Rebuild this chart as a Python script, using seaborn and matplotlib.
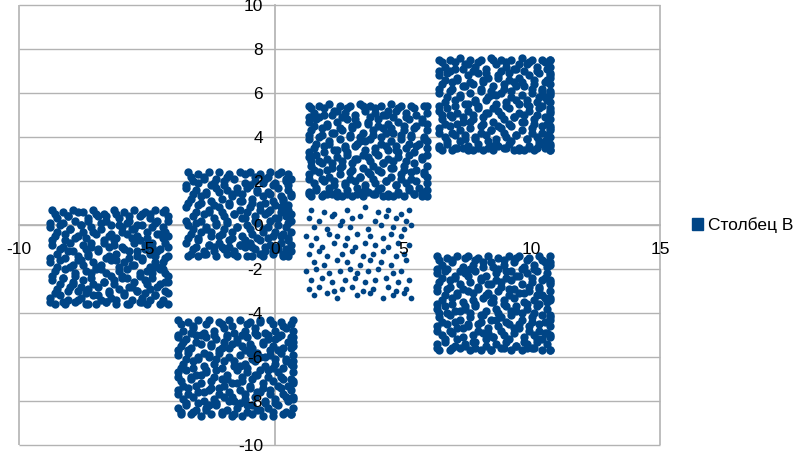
import matplotlib
matplotlib.use("Agg")
import pandas as pd
import matplotlib.pyplot as plt
from matplotlib.patches import Patch
import seaborn as sns

# Point positions are estimated from the picture. The dense clusters cannot be
# read point by point, so these are a thinner hand-typed set with the same
# extents and density feel as the reference.
a_x = [-8.7,-8.3,-7.9,-7.5,-7.1,-6.7,-6.3,-5.9,-5.5,-5.1,-4.7,-4.3,
       -8.5,-8.1,-7.8,-7.3,-6.9,-6.6,-6.1,-5.7,-5.3,-4.9,-4.6,-4.2,
       -8.8,-8.4,-8.0,-7.6,-7.2,-6.8,-6.4,-6.0,-5.6,-5.2,-4.8,-4.4,
       -8.6,-8.2,-7.7,-7.4,-7.0,-6.5,-6.2,-5.8,-5.4,-5.0,-4.5,-4.2,
       -8.7,-8.3,-8.0,-7.5,-7.2,-6.7,-6.3,-6.0,-5.5,-5.1,-4.8,-4.3,
       -8.5,-8.1,-7.7,-7.3,-6.9,-6.5,-6.2,-5.7,-5.4,-4.9,-4.6,-4.2,
       -8.8,-8.4,-7.9,-7.6,-7.1,-6.8,-6.4,-5.9,-5.6,-5.2,-4.7,-4.4,
       -8.6,-8.2,-7.8,-7.4,-7.0,-6.6,-6.1,-5.8,-5.3,-5.0,-4.5,-4.3,
       -8.7,-8.3,-7.9,-7.5,-7.2,-6.7,-6.3,-6.0,-5.5,-5.1,-4.8,-4.2,
       -8.5,-8.0,-7.7,-7.3,-6.9,-6.5,-6.1,-5.7,-5.4,-4.9,-4.6,-4.3,
       -8.8,-8.4,-8.1,-7.6,-7.1,-6.8,-6.4,-5.9,-5.6,-5.2,-4.7,-4.4,
       -8.6,-8.2,-7.8,-7.4,-7.0,-6.6,-6.2,-5.8,-5.3,-5.0,-4.5,-4.2]
a_y = [0.7,0.6,0.7,0.6,0.7,0.5,0.7,0.6,0.7,0.6,0.7,0.7,
       0.3,0.4,0.2,0.3,0.4,0.2,0.3,0.2,0.4,0.3,0.2,0.4,
       -0.1,0.0,-0.2,0.0,-0.1,-0.2,0.0,-0.1,-0.2,0.0,-0.1,-0.1,
       -0.5,-0.4,-0.5,-0.6,-0.4,-0.5,-0.6,-0.4,-0.5,-0.6,-0.4,-0.5,
       -0.9,-1.0,-0.8,-0.9,-1.0,-0.8,-0.9,-1.0,-0.8,-0.9,-1.0,-0.8,
       -1.3,-1.2,-1.4,-1.3,-1.2,-1.4,-1.3,-1.2,-1.4,-1.3,-1.2,-1.4,
       -1.7,-1.6,-1.8,-1.6,-1.7,-1.8,-1.6,-1.7,-1.8,-1.6,-1.7,-1.7,
       -2.1,-2.0,-2.2,-2.1,-2.0,-2.2,-2.1,-2.0,-2.2,-2.1,-2.0,-2.2,
       -2.5,-2.4,-2.6,-2.5,-2.4,-2.6,-2.5,-2.4,-2.6,-2.5,-2.4,-2.6,
       -2.9,-2.8,-3.0,-2.9,-2.8,-3.0,-2.9,-2.8,-3.0,-2.9,-2.8,-3.0,
       -3.3,-3.2,-3.4,-3.3,-3.2,-3.4,-3.3,-3.2,-3.4,-3.3,-3.2,-3.4,
       -3.6,-3.6,-3.5,-3.6,-3.6,-3.5,-3.6,-3.6,-3.5,-3.6,-3.6,-3.6]
a2_x = [-8.6,-8.1,-7.7,-7.0,-6.6,-6.2,-5.7,-5.2,-4.9,-4.4,
        -8.8,-8.3,-7.6,-7.3,-6.8,-6.1,-5.8,-5.4,-4.7,-4.2,
        -8.5,-8.0,-7.5,-7.1,-6.4,-6.0,-5.5,-5.0,-4.6,-4.3,
        -8.7,-8.2,-7.8,-7.2,-6.7,-6.3,-5.6,-5.3,-4.8,-4.4,
        -8.4,-7.9,-7.4,-6.9,-6.5,-5.9,-5.4,-5.1,-4.5,-4.2,
        -8.8,-8.2,-7.7,-7.3,-6.6,-6.2,-5.7,-5.2,-4.7,-4.3,
        -8.5,-8.0,-7.5,-7.0,-6.8,-6.1,-5.5,-4.9,-4.6,-4.4,
        -8.7,-8.3,-7.8,-7.2,-6.4,-6.0,-5.8,-5.3,-4.8,-4.2,
        -8.4,-7.9,-7.6,-7.1,-6.7,-6.3,-5.6,-5.0,-4.5,-4.3,
        -8.6,-8.1,-7.4,-6.9,-6.5,-5.9,-5.4,-5.1,-4.7,-4.2,
        -8.8,-8.3,-7.7,-7.3,-6.6,-6.2,-5.7,-5.2,-4.9,-4.4]
a2_y = [0.5,0.4,0.6,0.5,0.4,0.5,0.4,0.5,0.5,0.6,
        0.1,0.1,0.0,0.2,0.1,0.0,0.1,0.0,0.1,0.2,
        -0.3,-0.2,-0.3,-0.3,-0.4,-0.3,-0.2,-0.3,-0.4,-0.3,
        -0.7,-0.7,-0.6,-0.8,-0.7,-0.7,-0.6,-0.7,-0.8,-0.6,
        -1.1,-1.2,-1.1,-1.1,-1.0,-1.1,-1.2,-1.1,-1.1,-1.0,
        -1.5,-1.5,-1.6,-1.4,-1.5,-1.6,-1.5,-1.5,-1.4,-1.5,
        -1.9,-1.9,-1.8,-1.9,-2.0,-1.9,-1.8,-1.9,-1.9,-2.0,
        -2.3,-2.4,-2.3,-2.2,-2.3,-2.3,-2.4,-2.3,-2.2,-2.3,
        -2.7,-2.7,-2.8,-2.7,-2.6,-2.7,-2.8,-2.7,-2.7,-2.6,
        -3.1,-3.0,-3.1,-3.2,-3.1,-3.1,-3.0,-3.1,-3.2,-3.1,
        -3.5,-3.5,-3.4,-3.6,-3.5,-3.4,-3.6,-3.5,-3.4,-3.5]

b_x = [-3.4,-3.0,-2.6,-2.2,-1.8,-1.4,-1.0,-0.6,-0.2,0.2,0.5,
       -3.2,-2.8,-2.4,-2.0,-1.6,-1.2,-0.8,-0.4,0.0,0.4,0.6,
       -3.5,-3.1,-2.7,-2.3,-1.9,-1.5,-1.1,-0.7,-0.3,0.1,0.5,
       -3.3,-2.9,-2.5,-2.1,-1.7,-1.3,-0.9,-0.5,-0.1,0.3,0.6,
       -3.5,-3.0,-2.6,-2.2,-1.8,-1.4,-1.0,-0.6,-0.2,0.2,0.5,
       -3.2,-2.8,-2.4,-2.0,-1.6,-1.2,-0.8,-0.4,0.0,0.4,0.6,
       -3.4,-3.1,-2.7,-2.3,-1.9,-1.5,-1.1,-0.7,-0.3,0.1,0.5,
       -3.3,-2.9,-2.5,-2.1,-1.7,-1.3,-0.9,-0.5,-0.1,0.3,0.6,
       -3.5,-3.0,-2.6,-2.2,-1.8,-1.4,-1.0,-0.6,-0.2,0.2,0.5,
       -3.2,-2.8,-2.4,-2.0,-1.6,-1.2,-0.8,-0.4,0.0,0.4,0.6,
       -3.4,-3.0,-2.7,-2.3,-1.9,-1.5,-0.9,-0.5,-0.1,0.3,0.5]
b_y = [2.4,2.3,2.4,2.4,2.3,2.4,2.4,2.3,2.4,2.4,2.3,
       2.0,2.1,1.9,2.0,2.1,1.9,2.0,2.1,1.9,2.0,2.1,
       1.7,1.6,1.5,1.7,1.6,1.5,1.7,1.6,1.5,1.7,1.6,
       1.2,1.3,1.1,1.2,1.3,1.1,1.2,1.3,1.1,1.2,1.3,
       0.8,0.9,0.7,0.8,0.9,0.7,0.8,0.9,0.7,0.8,0.9,
       0.4,0.5,0.3,0.4,0.5,0.3,0.4,0.5,0.3,0.4,0.5,
       0.0,0.1,-0.1,0.0,0.1,-0.1,0.0,0.1,-0.1,0.0,0.1,
       -0.4,-0.3,-0.5,-0.4,-0.3,-0.5,-0.4,-0.3,-0.5,-0.4,-0.3,
       -0.8,-0.7,-0.9,-0.8,-0.7,-0.9,-0.8,-0.7,-0.9,-0.8,-0.7,
       -1.1,-1.2,-1.0,-1.1,-1.2,-1.0,-1.1,-1.2,-1.0,-1.1,-1.2,
       -1.4,-1.4,-1.3,-1.4,-1.3,-1.4,-1.4,-1.4,-1.3,-1.4,-1.4]
b2_x = [-3.3,-2.8,-2.3,-1.9,-1.2,-0.8,-0.3,0.1,0.4,
        -3.5,-3.0,-2.5,-2.0,-1.5,-1.0,-0.5,-0.1,0.5,
        -3.2,-2.7,-2.2,-1.7,-1.3,-0.7,-0.2,0.2,0.6,
        -3.4,-2.9,-2.4,-1.8,-1.4,-0.9,-0.4,0.0,0.3,
        -3.1,-2.6,-2.1,-1.6,-1.1,-0.6,-0.3,0.2,0.5,
        -3.5,-2.9,-2.3,-1.9,-1.3,-0.8,-0.2,0.1,0.6,
        -3.2,-2.7,-2.5,-2.0,-1.5,-1.0,-0.5,0.0,0.4,
        -3.4,-3.0,-2.2,-1.7,-1.2,-0.7,-0.3,0.2,0.5,
        -3.1,-2.6,-2.1,-1.8,-1.4,-0.9,-0.4,0.1,0.6,
        -3.3,-2.8,-2.4,-1.6,-1.1,-0.6,-0.1,0.3,0.4]
b2_y = [2.2,2.2,2.1,2.2,2.3,2.2,2.2,2.3,2.1,
        1.8,1.9,1.8,1.8,1.7,1.8,1.9,1.8,1.8,
        1.4,1.4,1.5,1.4,1.4,1.5,1.4,1.3,1.4,
        1.0,1.0,0.9,1.0,1.1,1.0,1.0,0.9,1.1,
        0.6,0.6,0.6,0.5,0.6,0.7,0.6,0.6,0.7,
        0.2,0.2,0.1,0.2,0.3,0.2,0.2,0.3,0.2,
        -0.2,-0.2,-0.3,-0.2,-0.1,-0.2,-0.2,-0.3,-0.1,
        -0.6,-0.6,-0.5,-0.6,-0.7,-0.6,-0.6,-0.5,-0.6,
        -1.0,-0.9,-1.0,-1.0,-0.9,-1.0,-1.0,-1.1,-0.9,
        -1.3,-1.3,-1.2,-1.3,-1.4,-1.3,-1.2,-1.3,-1.3]

c_x = [-3.8,-3.4,-3.0,-2.6,-2.2,-1.8,-1.4,-1.0,-0.6,-0.2,0.2,0.7,
       -3.6,-3.2,-2.8,-2.4,-2.0,-1.6,-1.2,-0.8,-0.4,0.0,0.4,0.7,
       -3.8,-3.5,-3.1,-2.7,-2.3,-1.9,-1.5,-1.1,-0.7,-0.3,0.1,0.6,
       -3.7,-3.3,-2.9,-2.5,-2.1,-1.7,-1.3,-0.9,-0.5,-0.1,0.3,0.7,
       -3.8,-3.4,-3.0,-2.6,-2.2,-1.8,-1.4,-1.0,-0.6,-0.2,0.2,0.7,
       -3.6,-3.2,-2.8,-2.4,-2.0,-1.6,-1.2,-0.8,-0.4,0.0,0.4,0.6,
       -3.8,-3.5,-3.1,-2.7,-2.3,-1.9,-1.5,-1.1,-0.7,-0.3,0.1,0.7,
       -3.7,-3.3,-2.9,-2.5,-2.1,-1.7,-1.3,-0.9,-0.5,-0.1,0.3,0.7,
       -3.8,-3.4,-3.0,-2.6,-2.2,-1.8,-1.4,-1.0,-0.6,-0.2,0.2,0.6,
       -3.6,-3.2,-2.8,-2.4,-2.0,-1.6,-1.2,-0.8,-0.4,0.0,0.4,0.7,
       -3.8,-3.5,-3.1,-2.7,-2.3,-1.9,-1.5,-1.1,-0.7,-0.3,0.1,0.7,
       -3.7,-3.3,-2.9,-2.5,-2.1,-1.7,-1.3,-0.9,-0.5,-0.1,0.3,0.6]
c_y = [-4.3,-4.4,-4.3,-4.3,-4.4,-4.3,-4.3,-4.4,-4.3,-4.3,-4.4,-4.3,
       -4.8,-4.7,-4.9,-4.8,-4.7,-4.9,-4.8,-4.7,-4.9,-4.8,-4.7,-4.8,
       -5.1,-5.2,-5.0,-5.1,-5.2,-5.0,-5.2,-5.1,-5.0,-5.2,-5.1,-5.1,
       -5.5,-5.6,-5.4,-5.5,-5.6,-5.4,-5.5,-5.6,-5.4,-5.5,-5.6,-5.5,
       -5.9,-5.8,-6.0,-5.9,-5.8,-6.0,-5.9,-5.8,-6.0,-5.9,-5.8,-5.9,
       -6.3,-6.2,-6.4,-6.3,-6.2,-6.4,-6.3,-6.2,-6.4,-6.3,-6.2,-6.3,
       -6.7,-6.6,-6.8,-6.7,-6.6,-6.8,-6.6,-6.7,-6.8,-6.6,-6.7,-6.7,
       -7.1,-7.0,-7.2,-7.1,-7.0,-7.2,-7.1,-7.0,-7.2,-7.1,-7.0,-7.1,
       -7.5,-7.4,-7.6,-7.5,-7.4,-7.6,-7.5,-7.4,-7.6,-7.5,-7.4,-7.5,
       -7.9,-7.8,-8.0,-7.9,-7.8,-8.0,-7.9,-7.8,-8.0,-7.9,-7.8,-7.9,
       -8.3,-8.2,-8.4,-8.3,-8.2,-8.4,-8.3,-8.2,-8.4,-8.3,-8.2,-8.3,
       -8.6,-8.6,-8.7,-8.6,-8.6,-8.7,-8.7,-8.6,-8.7,-8.7,-8.6,-8.6]
c2_x = [-3.7,-3.2,-2.7,-2.1,-1.7,-1.1,-0.6,-0.1,0.3,0.6,
        -3.8,-3.3,-2.9,-2.4,-1.9,-1.3,-0.8,-0.3,0.2,0.7,
        -3.6,-3.1,-2.5,-2.0,-1.5,-1.0,-0.5,0.0,0.5,0.7,
        -3.8,-3.4,-2.8,-2.2,-1.8,-1.2,-0.7,-0.2,0.1,0.6,
        -3.5,-3.0,-2.6,-2.3,-1.6,-0.9,-0.4,0.0,0.4,0.7,
        -3.7,-3.2,-2.7,-2.1,-1.4,-1.1,-0.6,-0.1,0.3,0.7,
        -3.8,-3.3,-2.9,-2.4,-1.9,-1.3,-0.8,-0.3,0.2,0.6,
        -3.6,-3.1,-2.5,-2.0,-1.5,-1.0,-0.5,0.1,0.5,0.7,
        -3.8,-3.4,-2.8,-2.2,-1.7,-1.2,-0.7,-0.2,0.3,0.7,
        -3.5,-3.0,-2.6,-2.3,-1.8,-1.4,-0.9,-0.4,0.0,0.5,
        -3.7,-3.2,-2.7,-2.1,-1.6,-1.1,-0.6,-0.1,0.4,0.6]
c2_y = [-4.5,-4.6,-4.5,-4.5,-4.6,-4.5,-4.4,-4.5,-4.6,-4.5,
        -5.0,-4.9,-5.0,-5.0,-5.1,-5.0,-4.9,-5.0,-5.0,-5.1,
        -5.3,-5.3,-5.4,-5.3,-5.3,-5.4,-5.3,-5.2,-5.3,-5.3,
        -5.7,-5.7,-5.8,-5.7,-5.6,-5.7,-5.8,-5.7,-5.7,-5.6,
        -6.1,-6.1,-6.0,-6.1,-6.2,-6.1,-6.0,-6.1,-6.1,-6.2,
        -6.5,-6.5,-6.6,-6.5,-6.4,-6.5,-6.6,-6.5,-6.5,-6.4,
        -6.9,-6.9,-6.8,-6.9,-7.0,-6.9,-6.8,-6.9,-6.9,-7.0,
        -7.3,-7.3,-7.4,-7.3,-7.2,-7.3,-7.4,-7.3,-7.3,-7.2,
        -7.7,-7.7,-7.6,-7.7,-7.8,-7.7,-7.6,-7.7,-7.7,-7.8,
        -8.1,-8.1,-8.2,-8.1,-8.0,-8.1,-8.2,-8.1,-8.1,-8.0,
        -8.5,-8.5,-8.4,-8.5,-8.6,-8.5,-8.4,-8.5,-8.5,-8.6]

d_x = [1.3,1.7,2.1,2.5,2.9,3.3,3.7,4.1,4.5,4.9,5.3,5.8,
       1.5,1.9,2.3,2.7,3.1,3.5,3.9,4.3,4.7,5.1,5.5,5.9,
       1.3,1.6,2.0,2.4,2.8,3.2,3.6,4.0,4.4,4.8,5.2,5.7,
       1.4,1.8,2.2,2.6,3.0,3.4,3.8,4.2,4.6,5.0,5.4,5.9,
       1.3,1.7,2.1,2.5,2.9,3.3,3.7,4.1,4.5,4.9,5.3,5.8,
       1.5,1.9,2.3,2.7,3.1,3.5,3.9,4.3,4.7,5.1,5.5,5.9,
       1.3,1.6,2.0,2.4,2.8,3.2,3.6,4.0,4.4,4.8,5.2,5.7,
       1.4,1.8,2.2,2.6,3.0,3.4,3.8,4.2,4.6,5.0,5.4,5.9,
       1.3,1.7,2.1,2.5,2.9,3.3,3.7,4.1,4.5,4.9,5.3,5.8,
       1.5,1.9,2.3,2.7,3.1,3.5,3.9,4.3,4.7,5.1,5.5,5.9,
       1.3,1.6,2.0,2.4,2.8,3.2,3.6,4.0,4.4,4.8,5.2,5.7,
       1.4,1.8,2.2,2.6,3.0,3.4,3.8,4.2,4.6,5.0,5.4,5.9]
d_y = [5.4,5.4,5.5,5.4,5.4,5.5,5.4,5.4,5.5,5.4,5.4,5.4,
       5.1,5.0,5.2,5.1,5.0,5.2,5.1,5.0,5.2,5.1,5.0,5.1,
       4.7,4.8,4.6,4.7,4.8,4.6,4.7,4.8,4.6,4.7,4.8,4.7,
       4.3,4.4,4.2,4.3,4.4,4.2,4.3,4.4,4.2,4.3,4.4,4.3,
       3.9,4.0,3.8,3.9,4.0,3.8,3.9,4.0,3.8,3.9,4.0,3.9,
       3.5,3.6,3.4,3.5,3.6,3.4,3.5,3.6,3.4,3.5,3.6,3.5,
       3.1,3.2,3.0,3.1,3.2,3.0,3.1,3.2,3.0,3.1,3.2,3.1,
       2.7,2.8,2.6,2.7,2.8,2.6,2.7,2.8,2.6,2.7,2.8,2.7,
       2.3,2.4,2.2,2.3,2.4,2.2,2.3,2.4,2.2,2.3,2.4,2.3,
       1.9,2.0,1.8,1.9,2.0,1.8,1.9,2.0,1.8,1.9,2.0,1.9,
       1.5,1.6,1.4,1.5,1.6,1.4,1.5,1.6,1.4,1.5,1.6,1.5,
       1.3,1.3,1.4,1.3,1.3,1.3,1.4,1.3,1.3,1.3,1.4,1.3]
d2_x = [1.4,1.9,2.4,2.8,3.4,3.9,4.4,4.8,5.4,5.9,
        1.3,1.7,2.2,2.6,3.1,3.7,4.2,4.6,5.1,5.7,
        1.5,2.0,2.5,3.0,3.6,4.0,4.5,5.0,5.5,5.9,
        1.3,1.8,2.3,2.9,3.3,3.8,4.3,4.9,5.3,5.8,
        1.6,2.1,2.7,3.2,3.5,4.1,4.7,5.2,5.6,5.9,
        1.3,1.9,2.4,2.8,3.4,3.9,4.4,4.8,5.4,5.9,
        1.4,1.7,2.2,2.6,3.1,3.7,4.2,4.6,5.1,5.7,
        1.5,2.0,2.5,3.0,3.6,4.0,4.5,5.0,5.5,5.8,
        1.3,1.8,2.3,2.9,3.3,3.8,4.3,4.9,5.3,5.9,
        1.6,2.1,2.7,3.2,3.5,4.1,4.7,5.2,5.6,5.9,
        1.3,1.9,2.4,2.8,3.4,3.9,4.4,4.8,5.4,5.7]
d2_y = [5.3,5.3,5.2,5.3,5.4,5.3,5.2,5.3,5.3,5.4,
        4.9,4.9,5.0,4.9,4.8,4.9,5.0,4.9,4.9,4.8,
        4.5,4.5,4.4,4.5,4.6,4.5,4.4,4.5,4.5,4.6,
        4.1,4.1,4.2,4.1,4.0,4.1,4.2,4.1,4.1,4.0,
        3.7,3.7,3.6,3.7,3.8,3.7,3.6,3.7,3.7,3.8,
        3.3,3.3,3.4,3.3,3.2,3.3,3.4,3.3,3.3,3.2,
        2.9,2.9,2.8,2.9,3.0,2.9,2.8,2.9,2.9,3.0,
        2.5,2.5,2.6,2.5,2.4,2.5,2.6,2.5,2.5,2.4,
        2.1,2.1,2.0,2.1,2.2,2.1,2.0,2.1,2.1,2.2,
        1.7,1.7,1.8,1.7,1.6,1.7,1.8,1.7,1.7,1.6,
        1.4,1.4,1.3,1.4,1.5,1.4,1.3,1.4,1.4,1.3]

# sparser cluster, positions follow the zoomed crop more closely
e_x = [1.4,1.9,2.3,2.8,3.5,4.0,4.4,4.9,5.2,
       1.3,1.7,2.2,2.6,3.0,3.3,3.9,4.3,4.7,5.1,
       1.5,2.0,2.5,2.9,3.6,4.1,4.6,5.0,5.3,
       1.2,1.6,2.1,2.4,2.8,3.2,3.7,4.2,4.5,4.9,
       1.4,1.8,2.3,2.7,3.1,3.5,3.9,4.4,4.8,5.2,
       1.3,1.7,2.0,2.6,3.0,3.4,3.8,4.2,4.7,5.0,
       1.5,1.9,2.4,2.8,3.3,3.7,4.1,4.5,5.1,
       1.2,1.6,2.1,2.5,2.9,3.2,3.6,4.0,4.6,4.9,
       1.4,1.8,2.2,2.7,3.1,3.5,3.9,4.3,4.8,5.2,
       1.3,1.7,2.3,2.6,3.0,3.4,3.8,4.4,4.7,5.1,
       1.5,2.0,2.4,3.2,3.7,4.2,4.6,5.0,5.3]
e_y = [0.7,0.6,0.5,0.7,0.8,0.6,0.7,0.5,0.7,
       0.3,0.2,0.4,0.2,0.3,0.4,0.2,0.4,0.3,0.2,
       -0.1,-0.2,0.0,-0.1,-0.2,0.0,-0.1,-0.2,0.0,
       -0.5,-0.6,-0.4,-0.5,-0.6,-0.4,-0.5,-0.6,-0.4,-0.5,
       -0.9,-1.0,-0.8,-0.9,-1.0,-0.8,-0.9,-1.0,-0.8,-0.9,
       -1.3,-1.2,-1.4,-1.3,-1.2,-1.4,-1.3,-1.2,-1.4,-1.3,
       -1.7,-1.8,-1.6,-1.7,-1.8,-1.6,-1.7,-1.8,-1.6,
       -2.1,-2.0,-2.2,-2.1,-2.0,-2.2,-2.1,-2.0,-2.2,-2.1,
       -2.5,-2.4,-2.6,-2.5,-2.4,-2.6,-2.5,-2.4,-2.6,-2.5,
       -2.9,-2.8,-3.0,-2.9,-2.8,-3.0,-2.9,-2.8,-3.0,-2.9,
       -3.2,-3.1,-3.3,-3.2,-3.1,-3.3,-3.2,-3.1,-3.3]

f_x = [6.4,6.8,7.2,7.6,8.0,8.4,8.8,9.2,9.6,10.0,10.4,10.7,
       6.6,7.0,7.4,7.8,8.2,8.6,9.0,9.4,9.8,10.2,10.6,10.7,
       6.4,6.7,7.1,7.5,7.9,8.3,8.7,9.1,9.5,9.9,10.3,10.7,
       6.5,6.9,7.3,7.7,8.1,8.5,8.9,9.3,9.7,10.1,10.5,10.7,
       6.4,6.8,7.2,7.6,8.0,8.4,8.8,9.2,9.6,10.0,10.4,10.7,
       6.6,7.0,7.4,7.8,8.2,8.6,9.0,9.4,9.8,10.2,10.6,10.7,
       6.4,6.7,7.1,7.5,7.9,8.3,8.7,9.1,9.5,9.9,10.3,10.7,
       6.5,6.9,7.3,7.7,8.1,8.5,8.9,9.3,9.7,10.1,10.5,10.7,
       6.4,6.8,7.2,7.6,8.0,8.4,8.8,9.2,9.6,10.0,10.4,10.7,
       6.6,7.0,7.4,7.8,8.2,8.6,9.0,9.4,9.8,10.2,10.6,10.7,
       6.4,6.7,7.1,7.5,7.9,8.3,8.7,9.1,9.5,9.9,10.3,10.7,
       6.5,6.9,7.3,7.7,8.1,8.5,8.9,9.3,9.7,10.1,10.5,10.7]
f_y = [7.5,7.5,7.6,7.5,7.5,7.6,7.5,7.5,7.6,7.5,7.5,7.5,
       7.2,7.1,7.3,7.2,7.1,7.3,7.2,7.1,7.3,7.2,7.1,7.2,
       6.8,6.9,6.7,6.8,6.9,6.7,6.8,6.9,6.7,6.8,6.9,6.8,
       6.4,6.5,6.3,6.4,6.5,6.3,6.4,6.5,6.3,6.4,6.5,6.4,
       6.0,6.1,5.9,6.0,6.1,5.9,6.0,6.1,5.9,6.0,6.1,6.0,
       5.6,5.7,5.5,5.6,5.7,5.5,5.6,5.7,5.5,5.6,5.7,5.6,
       5.2,5.3,5.1,5.2,5.3,5.1,5.2,5.3,5.1,5.2,5.3,5.2,
       4.8,4.9,4.7,4.8,4.9,4.7,4.8,4.9,4.7,4.8,4.9,4.8,
       4.4,4.5,4.3,4.4,4.5,4.3,4.4,4.5,4.3,4.4,4.5,4.4,
       4.0,4.1,3.9,4.0,4.1,3.9,4.0,4.1,3.9,4.0,4.1,4.0,
       3.6,3.7,3.5,3.6,3.7,3.5,3.6,3.7,3.5,3.6,3.7,3.6,
       3.4,3.4,3.5,3.4,3.4,3.4,3.5,3.4,3.4,3.4,3.5,3.4]
f2_x = [6.5,7.0,7.5,7.9,8.5,9.0,9.5,9.9,10.5,10.7,
        6.4,6.8,7.3,7.7,8.2,8.8,9.3,9.7,10.2,10.7,
        6.6,7.1,7.6,8.1,8.7,9.1,9.6,10.1,10.6,10.7,
        6.4,6.9,7.4,8.0,8.4,8.9,9.4,10.0,10.4,10.7,
        6.7,7.2,7.8,8.3,8.6,9.2,9.8,10.3,10.5,10.7,
        6.4,7.0,7.5,7.9,8.5,9.0,9.5,9.9,10.4,10.7,
        6.5,6.8,7.3,7.7,8.2,8.8,9.3,9.7,10.2,10.7,
        6.6,7.1,7.6,8.1,8.7,9.1,9.6,10.1,10.6,10.7,
        6.4,6.9,7.4,8.0,8.4,8.9,9.4,10.0,10.4,10.7,
        6.7,7.2,7.8,8.3,8.6,9.2,9.8,10.3,10.5,10.7,
        6.4,7.0,7.5,7.9,8.5,9.0,9.5,9.9,10.2,10.7]
f2_y = [7.4,7.4,7.3,7.4,7.5,7.4,7.3,7.4,7.4,7.5,
        7.0,7.0,7.1,7.0,6.9,7.0,7.1,7.0,7.0,6.9,
        6.6,6.6,6.5,6.6,6.7,6.6,6.5,6.6,6.6,6.7,
        6.2,6.2,6.3,6.2,6.1,6.2,6.3,6.2,6.2,6.1,
        5.8,5.8,5.7,5.8,5.9,5.8,5.7,5.8,5.8,5.9,
        5.4,5.4,5.5,5.4,5.3,5.4,5.5,5.4,5.4,5.3,
        5.0,5.0,4.9,5.0,5.1,5.0,4.9,5.0,5.0,5.1,
        4.6,4.6,4.7,4.6,4.5,4.6,4.7,4.6,4.6,4.5,
        4.2,4.2,4.1,4.2,4.3,4.2,4.1,4.2,4.2,4.3,
        3.8,3.8,3.9,3.8,3.7,3.8,3.9,3.8,3.8,3.7,
        3.5,3.5,3.4,3.5,3.6,3.5,3.4,3.5,3.5,3.4]

g_x = [6.3,6.7,7.1,7.5,7.9,8.3,8.7,9.1,9.5,9.9,10.3,10.7,
       6.5,6.9,7.3,7.7,8.1,8.5,8.9,9.3,9.7,10.1,10.5,10.7,
       6.3,6.6,7.0,7.4,7.8,8.2,8.6,9.0,9.4,9.8,10.2,10.6,
       6.4,6.8,7.2,7.6,8.0,8.4,8.8,9.2,9.6,10.0,10.4,10.7,
       6.3,6.7,7.1,7.5,7.9,8.3,8.7,9.1,9.5,9.9,10.3,10.7,
       6.5,6.9,7.3,7.7,8.1,8.5,8.9,9.3,9.7,10.1,10.5,10.7,
       6.3,6.6,7.0,7.4,7.8,8.2,8.6,9.0,9.4,9.8,10.2,10.6,
       6.4,6.8,7.2,7.6,8.0,8.4,8.8,9.2,9.6,10.0,10.4,10.7,
       6.3,6.7,7.1,7.5,7.9,8.3,8.7,9.1,9.5,9.9,10.3,10.7,
       6.5,6.9,7.3,7.7,8.1,8.5,8.9,9.3,9.7,10.1,10.5,10.7,
       6.3,6.6,7.0,7.4,7.8,8.2,8.6,9.0,9.4,9.8,10.2,10.6,
       6.4,6.8,7.2,7.6,8.0,8.4,8.8,9.2,9.6,10.0,10.4,10.7]
g_y = [-1.4,-1.5,-1.4,-1.4,-1.5,-1.4,-1.5,-1.4,-1.4,-1.5,-1.4,-1.4,
       -1.8,-1.7,-1.9,-1.8,-1.7,-1.9,-1.8,-1.7,-1.9,-1.8,-1.7,-1.8,
       -2.2,-2.1,-2.3,-2.2,-2.1,-2.3,-2.2,-2.1,-2.3,-2.2,-2.1,-2.2,
       -2.6,-2.5,-2.7,-2.6,-2.5,-2.7,-2.6,-2.5,-2.7,-2.6,-2.5,-2.6,
       -3.0,-2.9,-3.1,-3.0,-2.9,-3.1,-3.0,-2.9,-3.1,-3.0,-2.9,-3.0,
       -3.4,-3.3,-3.5,-3.4,-3.3,-3.5,-3.4,-3.3,-3.5,-3.4,-3.3,-3.4,
       -3.8,-3.7,-3.9,-3.8,-3.7,-3.9,-3.8,-3.7,-3.9,-3.8,-3.7,-3.8,
       -4.2,-4.1,-4.3,-4.2,-4.1,-4.3,-4.2,-4.1,-4.3,-4.2,-4.1,-4.2,
       -4.6,-4.5,-4.7,-4.6,-4.5,-4.7,-4.6,-4.5,-4.7,-4.6,-4.5,-4.6,
       -5.0,-4.9,-5.1,-5.0,-4.9,-5.1,-5.0,-4.9,-5.1,-5.0,-4.9,-5.0,
       -5.4,-5.3,-5.5,-5.4,-5.3,-5.5,-5.4,-5.3,-5.5,-5.4,-5.3,-5.4,
       -5.7,-5.7,-5.6,-5.7,-5.7,-5.7,-5.6,-5.7,-5.7,-5.6,-5.7,-5.7]
g2_x = [6.4,6.9,7.4,7.8,8.4,8.9,9.4,9.8,10.4,10.7,
        6.3,6.7,7.2,7.6,8.1,8.7,9.2,9.6,10.1,10.6,
        6.5,7.0,7.5,8.0,8.6,9.0,9.5,10.0,10.5,10.7,
        6.3,6.8,7.3,7.9,8.3,8.8,9.3,9.9,10.3,10.7,
        6.6,7.1,7.7,8.2,8.5,9.1,9.7,10.2,10.4,10.7,
        6.3,6.9,7.4,7.8,8.4,8.9,9.4,9.8,10.3,10.6,
        6.4,6.7,7.2,7.6,8.1,8.7,9.2,9.6,10.1,10.7,
        6.5,7.0,7.5,8.0,8.6,9.0,9.5,10.0,10.5,10.7,
        6.3,6.8,7.3,7.9,8.3,8.8,9.3,9.9,10.3,10.6,
        6.6,7.1,7.7,8.2,8.5,9.1,9.7,10.2,10.4,10.7,
        6.3,6.9,7.4,7.8,8.4,8.9,9.4,9.8,10.1,10.7]
g2_y = [-1.6,-1.6,-1.5,-1.6,-1.7,-1.6,-1.5,-1.6,-1.6,-1.7,
        -2.0,-2.0,-2.1,-2.0,-1.9,-2.0,-2.1,-2.0,-2.0,-1.9,
        -2.4,-2.4,-2.3,-2.4,-2.5,-2.4,-2.3,-2.4,-2.4,-2.5,
        -2.8,-2.8,-2.9,-2.8,-2.7,-2.8,-2.9,-2.8,-2.8,-2.7,
        -3.2,-3.2,-3.1,-3.2,-3.3,-3.2,-3.1,-3.2,-3.2,-3.3,
        -3.6,-3.6,-3.7,-3.6,-3.5,-3.6,-3.7,-3.6,-3.6,-3.5,
        -4.0,-4.0,-3.9,-4.0,-4.1,-4.0,-3.9,-4.0,-4.0,-4.1,
        -4.4,-4.4,-4.5,-4.4,-4.3,-4.4,-4.5,-4.4,-4.4,-4.3,
        -4.8,-4.8,-4.7,-4.8,-4.9,-4.8,-4.7,-4.8,-4.8,-4.9,
        -5.2,-5.2,-5.3,-5.2,-5.1,-5.2,-5.3,-5.2,-5.2,-5.1,
        -5.6,-5.6,-5.5,-5.6,-5.7,-5.6,-5.5,-5.6,-5.6,-5.7]

x_ticks = [-10, -5, 0, 5, 10, 15]
y_ticks = [-10, -8, -6, -4, -2, 0, 2, 4, 6, 8, 10]
series_name = "Столбец В"

COLOR = "#004586"
GREY = "#b3b3b3"

sns.set_theme(style="white")
plt.rcParams['font.family'] = ['Liberation Sans', 'DejaVu Sans']
plt.rcParams['axes.unicode_minus'] = False

dense = pd.DataFrame({
    "x": a_x + a2_x + b_x + b2_x + c_x + c2_x + d_x + d2_x + f_x + f2_x + g_x + g2_x,
    "y": a_y + a2_y + b_y + b2_y + c_y + c2_y + d_y + d2_y + f_y + f2_y + g_y + g2_y,
})
sparse = pd.DataFrame({"x": e_x, "y": e_y})

fig = plt.figure(figsize=(8.06, 4.53), dpi=100)
ax = fig.add_axes([19 / 806, 1 - 445 / 453, 641 / 806, 440 / 453])

# bigger dots in the dense blocks make up for having fewer points than the original
sns.scatterplot(data=dense, x="x", y="y", color=COLOR, s=36, linewidth=0, ax=ax, zorder=2)
sns.scatterplot(data=sparse, x="x", y="y", color=COLOR, s=17, linewidth=0, ax=ax, zorder=2)

ax.set_xlim(-10, 15)
ax.set_ylim(-10, 10)
ax.set_xticks(x_ticks)
ax.set_yticks(y_ticks)
ax.set_xlabel("")
ax.set_ylabel("")

# gridlines sit under the points, tick labels sit over them
ax.set_axisbelow(False)
ax.hlines(y_ticks, -10, 15, color=GREY, linewidth=1, zorder=0, clip_on=False)
ax.vlines([-10, 15], -10, 10, color=GREY, linewidth=1.2, zorder=0, clip_on=False)

ax.spines['left'].set_position(('data', 0))
ax.spines['bottom'].set_position(('data', 0))
for name in ['left', 'bottom']:
    ax.spines[name].set_color(GREY)
    ax.spines[name].set_zorder(1)
for name in ['top', 'right']:
    ax.spines[name].set_visible(False)

ax.tick_params(axis='x', length=0, pad=12, labelsize=12.5, labelcolor="black")
ax.tick_params(axis='y', length=0, pad=9, labelsize=12.5, labelcolor="black")

handle = Patch(facecolor=COLOR, edgecolor=COLOR, label=series_name)
fig.legend(handles=[handle], loc='center left', bbox_to_anchor=(692 / 806, 1 - 225 / 453),
           frameon=False, fontsize=12.5, handlelength=0.65, handleheight=0.65,
           handletextpad=0.3, borderpad=0, borderaxespad=0, labelcolor="black")

fig.savefig("out.png", dpi=100)
plt.close(fig)
